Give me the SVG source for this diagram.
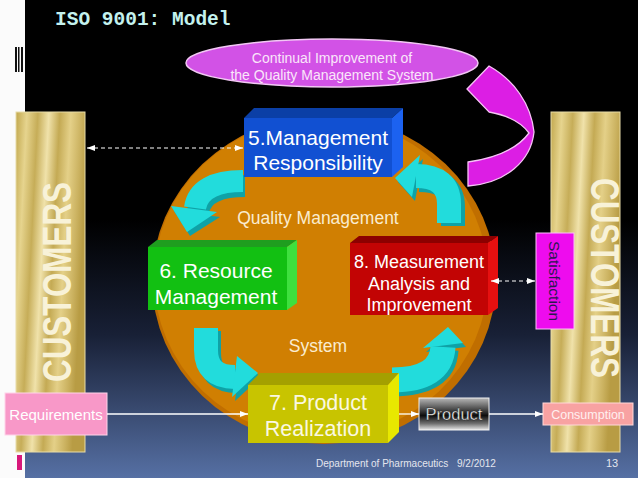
<svg xmlns="http://www.w3.org/2000/svg" width="638" height="478" viewBox="0 0 638 478">
<defs>
<style>
.t{font-family:"Liberation Sans",Arial,sans-serif;}
.box{fill:#fff;text-anchor:middle;}
.cy{fill:#22dcdc;}
.cyd{fill:#0fa2a6;}
.cyb{fill:none;stroke:#22dcdc;}
.cydb{fill:none;stroke:#0fa2a6;}
.dash{stroke:#fff;stroke-width:1.2;stroke-dasharray:4 3;fill:none;}
.solid{stroke:#fff;stroke-width:1.3;fill:none;}
</style>
<linearGradient id="bg" x1="0" y1="0" x2="0" y2="1">
<stop offset="0" stop-color="#000"/>
<stop offset="0.46" stop-color="#000"/>
<stop offset="0.7" stop-color="#182036"/>
<stop offset="1" stop-color="#5670a4"/>
</linearGradient>
<linearGradient id="gold" x1="0" y1="0" x2="1" y2="0.25">
<stop offset="0" stop-color="#c2a84e"/>
<stop offset="0.15" stop-color="#e6d48e"/>
<stop offset="0.3" stop-color="#c6ad58"/>
<stop offset="0.45" stop-color="#f0e2aa"/>
<stop offset="0.6" stop-color="#c4aa54"/>
<stop offset="0.75" stop-color="#e4d088"/>
<stop offset="0.9" stop-color="#cbb260"/>
<stop offset="1" stop-color="#b89c44"/>
</linearGradient>
<linearGradient id="metal" x1="0" y1="0" x2="0" y2="1">
<stop offset="0" stop-color="#b8b8b8"/>
<stop offset="0.3" stop-color="#5a5a5a"/>
<stop offset="0.55" stop-color="#0c0c0c"/>
<stop offset="0.8" stop-color="#707070"/>
<stop offset="1" stop-color="#e8e8e8"/>
</linearGradient>
<marker id="ah" markerWidth="8" markerHeight="6" refX="8" refY="3" orient="auto-start-reverse" markerUnits="userSpaceOnUse">
<path d="M0,0 L8,3 L0,6 z" fill="#fff"/>
</marker>
</defs>

<!-- background -->
<rect x="0" y="0" width="638" height="478" fill="#fbfbfb"/>
<rect x="25" y="0" width="613" height="478" fill="url(#bg)"/>
<g id="deco">
<rect x="15" y="47" width="2" height="25" fill="#111"/>
<rect x="18" y="47" width="1.5" height="25" fill="#111"/>
<rect x="21" y="47" width="2" height="25" fill="#111"/>
<rect x="17" y="455" width="5" height="15" fill="#d8187a"/>
</g>

<text class="t" x="55" y="25" style="font-family:'Liberation Mono',monospace;font-weight:bold;font-size:19.5px;fill:#c4f2ee;">ISO 9001: Model</text>

<!-- orange disc -->
<g id="disc">
<ellipse cx="324" cy="280" rx="172" ry="164" fill="#c06e00"/>
<ellipse cx="321" cy="278" rx="167" ry="160" fill="#d07f02"/>
</g>

<!-- pillars -->
<g id="customers-left">
<rect x="16" y="112" width="69" height="340" fill="url(#gold)" stroke="#e8dca8" stroke-width="1"/>
<text class="t" transform="translate(71,282) rotate(-90)" text-anchor="middle" textLength="200" lengthAdjust="spacingAndGlyphs" style="font-size:40px;font-weight:bold;fill:#f8f2d8;">CUSTOMERS</text>
</g>
<g id="customers-right">
<rect x="551" y="112" width="69" height="340" fill="url(#gold)" stroke="#e8dca8" stroke-width="1"/>
<text class="t" transform="translate(591,278) rotate(90)" text-anchor="middle" textLength="200" lengthAdjust="spacingAndGlyphs" style="font-size:40px;font-weight:bold;fill:#f8f2d8;">CUSTOMERS</text>
</g>

<!-- continual improvement ellipse -->
<g id="continual">
<ellipse cx="332" cy="63" rx="146" ry="24" fill="#d252e6" stroke="#f2c8f4" stroke-width="1.5"/>
<text class="t" x="332" y="63" text-anchor="middle" style="font-size:14px;fill:#fae6fa;">Continual Improvement of</text>
<text class="t" x="332" y="80" text-anchor="middle" style="font-size:14px;fill:#fae6fa;">the Quality Management System</text>
</g>

<!-- magenta curved arrow -->
<g id="improve-arrow">
<path d="M467,89 L489,66 C514,80 531,104 534,132 C531,161 506,183 468,186 L468,162 C496,158 518,148 529,133 C521,122 506,115 489,112 Z" fill="#dc1ee4" stroke="#f6c4f6" stroke-width="1.3"/>
</g>

<!-- cyan arrows -->
<g id="cycle-arrows">
<!-- top-left -->
<path class="cydb" d="M245,186 Q202,186 198,212" stroke-width="22"/>
<polygon class="cyd" points="174,211 220,217 190,236"/>
<path class="cyb" d="M243,181 Q199,181 195,208" stroke-width="22"/>
<polygon class="cy" points="171,206 217,212 187,232"/>
<!-- top-right -->
<path class="cydb" d="M453,226 L453,207 Q453,180 419,180" stroke-width="24"/>
<polygon class="cyd" points="423,159 415,201 398,182"/>
<path class="cyb" d="M449,223 L449,204 Q449,176 416,176" stroke-width="24"/>
<polygon class="cy" points="420,155 412,197 395,178"/>
<!-- bottom-left -->
<path class="cydb" d="M209,331 L209,353 Q209,381 238,381" stroke-width="24"/>
<polygon class="cyd" points="240,360 235,401 261,377"/>
<path class="cyb" d="M206,328 L206,350 Q206,377 235,377" stroke-width="24"/>
<polygon class="cy" points="237,356 232,397 258,373"/>
<!-- bottom-right -->
<path class="cydb" d="M392,384 Q444,384 446,350" stroke-width="25"/>
<polygon class="cyd" points="426,352 466,347 451,331"/>
<path class="cyb" d="M392,380 Q441,380 443,347" stroke-width="25"/>
<polygon class="cy" points="423,348 463,343 448,327"/>
</g>

<!-- boxes -->
<g id="box5">
<polygon points="244,118 254,108 403,108 392,118" fill="#0b3fa6"/>
<polygon points="392,118 403,108 403,167 392,177" fill="#1c62f0"/>
<rect x="244" y="118" width="148" height="59" fill="#1150d2"/>
<text class="t box" x="318" y="145" style="font-size:21px;">5.Management</text>
<text class="t box" x="318" y="170" style="font-size:21px;">Responsibility</text>
</g>

<g id="box6">
<polygon points="148,247 157,240 297,240 287,247" fill="#1f9e1f"/>
<polygon points="287,247 297,240 297,303 287,310" fill="#3ee03e"/>
<rect x="148" y="247" width="139" height="63" fill="#12c012"/>
<text class="t box" x="216" y="278" style="font-size:21px;">6. Resource</text>
<text class="t box" x="216" y="304" style="font-size:21px;">Management</text>
</g>

<g id="box8">
<polygon points="350,243 359,236 498,236 488,243" fill="#8c0000"/>
<polygon points="488,243 498,236 498,308 488,315" fill="#e61010"/>
<rect x="350" y="243" width="138" height="72" fill="#c20404"/>
<text class="t box" x="419" y="268" style="font-size:18px;">8. Measurement</text>
<text class="t box" x="419" y="290" style="font-size:18px;">Analysis and</text>
<text class="t box" x="419" y="311" style="font-size:18px;">Improvement</text>
</g>

<g id="box7">
<polygon points="248,385 260,373 399,373 388,385" fill="#a4a000"/>
<polygon points="388,385 399,373 399,432 388,443" fill="#e8e800"/>
<rect x="248" y="385" width="140" height="58" fill="#c8c400"/>
<text class="t box" x="318" y="410" style="font-size:21.5px;fill:#fbf8e0;">7. Product</text>
<text class="t box" x="318" y="436" style="font-size:21.5px;fill:#fbf8e0;">Realization</text>
</g>

<text class="t" x="318" y="224" text-anchor="middle" style="font-size:17.5px;fill:#faecd0;">Quality Management</text>
<text class="t" x="318" y="352" text-anchor="middle" style="font-size:17.5px;fill:#faecd0;">System</text>

<g id="requirements">
<rect x="5" y="393" width="102" height="42" fill="#f898c8" stroke="#ffd4ea" stroke-width="1"/>
<text class="t" x="56" y="420" text-anchor="middle" style="font-size:15px;fill:#fff;">Requirements</text>
</g>

<g id="product">
<rect x="419" y="398" width="70" height="32" fill="url(#metal)" stroke="#f0f0f0" stroke-width="1"/>
<text class="t" x="454" y="420" text-anchor="middle" style="font-size:16.5px;fill:#fff;stroke:#222;stroke-width:0.4;">Product</text>
</g>

<g id="consumption">
<rect x="543" y="403" width="90" height="22" fill="#f8a2a2" stroke="#ffd8d8" stroke-width="1"/>
<text class="t" x="588" y="419" text-anchor="middle" style="font-size:12.5px;fill:#fff0f0;">Consumption</text>
</g>

<g id="satisfaction">
<rect x="536" y="233" width="38" height="96" fill="#ee0cee" stroke="#fbc0fb" stroke-width="1"/>
<text class="t" transform="translate(549,281) rotate(90)" text-anchor="middle" style="font-size:15.5px;fill:#2a1850;">Satisfaction</text>
</g>

<!-- connectors -->
<g id="connectors">
<line class="dash" x1="87" y1="148" x2="243" y2="148" marker-start="url(#ah)" marker-end="url(#ah)"/>
<line class="dash" x1="491" y1="281" x2="535" y2="281" marker-start="url(#ah)" marker-end="url(#ah)"/>
<line class="solid" x1="107" y1="414" x2="248" y2="414" marker-end="url(#ah)"/>
<line class="solid" x1="399" y1="414" x2="419" y2="414" marker-end="url(#ah)"/>
<line class="solid" x1="489" y1="414" x2="543" y2="414" marker-end="url(#ah)"/>
</g>

<g id="footer">
<text class="t" x="316" y="467" style="font-size:10px;fill:#e4e6ee;">Department of Pharmaceutics</text>
<text class="t" x="457" y="467" style="font-size:10px;fill:#e4e6ee;">9/2/2012</text>
<text class="t" x="606" y="467" style="font-size:11px;fill:#e4e6ee;">13</text>
</g>
</svg>
